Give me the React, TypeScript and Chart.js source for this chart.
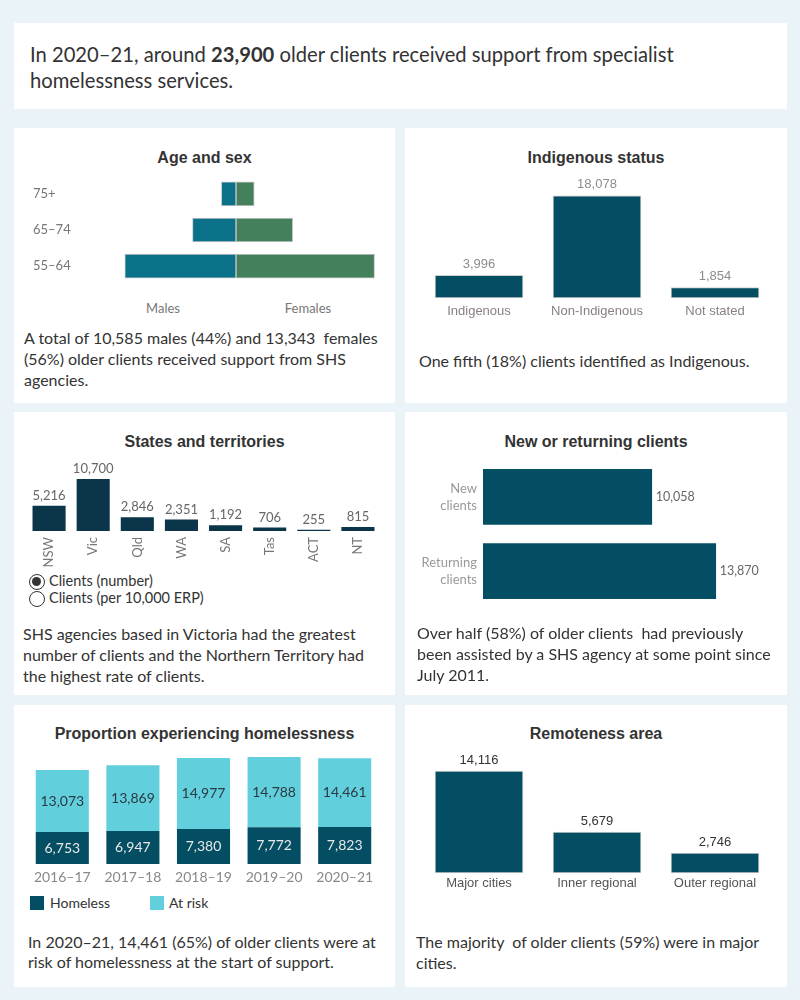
import React, { useEffect, useRef } from "react";
import { Chart, registerables } from "chart.js";
Chart.register(...registerables);

// ---------- data ----------
const ageGroups = ["75+", "65–74", "55–64"];
const maleCounts = [915, 2720, 6950];
const femaleCounts = [1138, 3545, 8660];

const indigenousCats = ["Indigenous", "Non-Indigenous", "Not stated"];
const indigenousCounts = [3996, 18078, 1854];

const stateCats = ["NSW", "Vic", "Qld", "WA", "SA", "Tas", "ACT", "NT"];
const stateCounts = [5216, 10700, 2846, 2351, 1192, 706, 255, 815];

const clientTypeCats = [["New", "clients"], ["Returning", "clients"]];
const clientTypeCounts = [10058, 13870];

const years = ["2016–17", "2017–18", "2018–19", "2019–20", "2020–21"];
const homelessCounts = [6753, 6947, 7380, 7772, 7823];
const atRiskCounts = [13073, 13869, 14977, 14788, 14461];

const remotenessCats = ["Major cities", "Inner regional", "Outer regional"];
const remotenessCounts = [14116, 5679, 2746];

// ---------- styles ----------
const BG = "#eaf3f7";
const TEAL = "#044e64";
const NAVY = "#0b3548";
const CYAN = "#62cfdd";
const MALE = "#0b7189";
const FEMALE = "#43805b";
const BODY_FONT = "Lato, 'Open Sans', sans-serif";
const ARIAL = "'Liberation Sans', Arial, sans-serif";

Chart.defaults.font.family = BODY_FONT;

const fmt = (v: number) => Math.abs(v).toLocaleString("en-US");

type LabelOpts = {
  mode: "top" | "right" | "center";
  colors: string[];
  font: string;
  offset?: number;
};

function valueLabels(o: LabelOpts) {
  return {
    id: "valueLabels",
    afterDatasetsDraw(chart: any) {
      const ctx = chart.ctx;
      ctx.save();
      ctx.font = o.font;
      chart.data.datasets.forEach((ds: any, di: number) => {
        const meta = chart.getDatasetMeta(di);
        ctx.fillStyle = o.colors[di % o.colors.length];
        meta.data.forEach((el: any, i: number) => {
          const v = ds.data[i] as number;
          const p = el.getProps(["x", "y", "base"], true);
          const txt = fmt(v);
          if (o.mode === "top") {
            ctx.textAlign = "center";
            ctx.textBaseline = "middle";
            ctx.fillText(txt, p.x, p.y - (o.offset ?? 10));
          } else if (o.mode === "right") {
            ctx.textAlign = "left";
            ctx.textBaseline = "middle";
            ctx.fillText(txt, p.x + (o.offset ?? 4), p.y);
          } else {
            ctx.textAlign = "center";
            ctx.textBaseline = "middle";
            ctx.fillText(txt, p.x, (p.y + p.base) / 2);
          }
        });
      });
      ctx.restore();
    },
  };
}

const noGrid = { display: false, drawTicks: false };
const noBorder = { display: false };
const basePlugins = { legend: { display: false }, tooltip: { enabled: false }, title: { display: false } };

function ChartBox(props: { left: number; top: number; width: number; height: number; make: () => any }) {
  const ref = useRef<HTMLCanvasElement>(null);
  useEffect(() => {
    const chart = new Chart(ref.current as HTMLCanvasElement, props.make());
    return () => chart.destroy();
  }, []);
  return (
    <div style={{ position: "absolute", left: props.left, top: props.top, width: props.width, height: props.height }}>
      <canvas ref={ref} />
    </div>
  );
}

// ---------- chart configs ----------
const ageConfig = () => ({
  type: "bar",
  data: {
    labels: ageGroups,
    datasets: [
      { label: "Males", data: maleCounts.map((v) => -v), backgroundColor: MALE },
      { label: "Females", data: femaleCounts, backgroundColor: FEMALE },
    ].map((d) => ({ ...d, barThickness: 24, borderColor: "#c9c9c9", borderWidth: 1, borderSkipped: false })),
  },
  options: {
    indexAxis: "y",
    animation: false,
    responsive: true,
    maintainAspectRatio: false,
    layout: { padding: 0 },
    scales: {
      x: { display: false, stacked: true, min: -8250, max: 9250 },
      y: {
        stacked: true,
        grid: noGrid,
        border: noBorder,
        afterFit: (s: any) => { s.width = 71; },
        ticks: { padding: 3, crossAlign: "far", color: "#777", font: { size: 13 } },
      },
    },
    plugins: basePlugins,
  },
});

const indigenousConfig = () => ({
  type: "bar",
  data: {
    labels: indigenousCats,
    datasets: [{ data: indigenousCounts, backgroundColor: TEAL, barThickness: 88, borderColor: "#cfcfcf", borderWidth: 1, borderSkipped: false }],
  },
  options: {
    animation: false,
    responsive: true,
    maintainAspectRatio: false,
    layout: { padding: { top: 15, bottom: 0, left: 0, right: 0 } },
    scales: {
      x: {
        grid: noGrid,
        border: noBorder,
        afterFit: (s: any) => { s.height = 22; },
        ticks: { padding: 6, color: "#8a8080", font: { family: ARIAL, size: 13 } },
      },
      y: { display: false, min: 0, max: 20000 },
    },
    plugins: basePlugins,
  },
  plugins: [valueLabels({ mode: "top", colors: ["#8c8c8c"], font: `13px ${ARIAL}`, offset: 11 })],
});

const statesConfig = () => ({
  type: "bar",
  data: {
    labels: stateCats,
    datasets: [{ data: stateCounts, backgroundColor: NAVY, barPercentage: 0.75, categoryPercentage: 1 }],
  },
  options: {
    animation: false,
    responsive: true,
    maintainAspectRatio: false,
    layout: { padding: { top: 17, bottom: 0, left: 0, right: 0 } },
    scales: {
      x: {
        grid: noGrid,
        border: noBorder,
        afterFit: (s: any) => { s.height = 40; },
        ticks: { padding: 6, minRotation: 90, maxRotation: 90, autoSkip: false, color: "#777", font: { size: 13 } },
      },
      y: { display: false, min: 0, max: 12150 },
    },
    plugins: basePlugins,
  },
  plugins: [valueLabels({ mode: "top", colors: ["#666"], font: `13px ${BODY_FONT}`, offset: 10 })],
});

const clientTypeConfig = () => ({
  type: "bar",
  data: {
    labels: clientTypeCats,
    datasets: [{ data: clientTypeCounts, backgroundColor: TEAL, barThickness: 55 }],
  },
  options: {
    indexAxis: "y",
    animation: false,
    responsive: true,
    maintainAspectRatio: false,
    layout: { padding: 0 },
    scales: {
      x: { display: false, min: 0, max: 17700 },
      y: {
        grid: noGrid,
        border: noBorder,
        afterFit: (s: any) => { s.width = 73; },
        ticks: { padding: 6, color: "#999", font: { size: 13, lineHeight: 1.3 } },
      },
    },
    plugins: basePlugins,
  },
  plugins: [valueLabels({ mode: "right", colors: ["#666"], font: `12.5px ${BODY_FONT}`, offset: 4 })],
});

const homelessConfig = () => ({
  type: "bar",
  data: {
    labels: years,
    datasets: [
      { label: "Homeless", data: homelessCounts, backgroundColor: TEAL },
      { label: "At risk", data: atRiskCounts, backgroundColor: CYAN },
    ].map((d) => ({ ...d, barPercentage: 0.752, categoryPercentage: 1 })),
  },
  options: {
    animation: false,
    responsive: true,
    maintainAspectRatio: false,
    layout: { padding: { top: 5, bottom: 0, left: 0, right: 0 } },
    scales: {
      x: {
        stacked: true,
        grid: noGrid,
        border: noBorder,
        afterFit: (s: any) => { s.height = 25; },
        ticks: { padding: 5, color: "#888", font: { size: 14 } },
      },
      y: { display: false, stacked: true, min: 0, max: 24050 },
    },
    plugins: basePlugins,
  },
  plugins: [valueLabels({ mode: "center", colors: ["#e8e8e8", "#2a3a44"], font: `14px ${BODY_FONT}` })],
});

const remotenessConfig = () => ({
  type: "bar",
  data: {
    labels: remotenessCats,
    datasets: [{ data: remotenessCounts, backgroundColor: TEAL, barThickness: 88, borderColor: "#cfcfcf", borderWidth: 1, borderSkipped: false }],
  },
  options: {
    animation: false,
    responsive: true,
    maintainAspectRatio: false,
    layout: { padding: { top: 12, bottom: 0, left: 0, right: 0 } },
    scales: {
      x: {
        grid: noGrid,
        border: noBorder,
        afterFit: (s: any) => { s.height = 22; },
        ticks: { padding: 3, color: "#555", font: { family: ARIAL, size: 13 } },
      },
      y: { display: false, min: 0, max: 15360 },
    },
    plugins: basePlugins,
  },
  plugins: [valueLabels({ mode: "top", colors: ["#333"], font: `13px ${ARIAL}`, offset: 11 })],
});

// ---------- layout helpers ----------
const Card = (p: { l: number; t: number; w: number; h: number }) => (
  <div style={{ position: "absolute", left: p.l, top: p.t, width: p.w, height: p.h, background: "#fff" }} />
);

const Title = (p: { cx: number; cy: number; text: string }) => (
  <div
    style={{
      position: "absolute", left: p.cx - 190, width: 380, top: p.cy - 10, height: 20, lineHeight: "20px",
      textAlign: "center", fontFamily: ARIAL, fontWeight: "bold", fontSize: 16, color: "#333", whiteSpace: "nowrap",
    }}
  >
    {p.text}
  </div>
);

const Para = (p: { l: number; cy: number; lh: number; lines: React.ReactNode[] }) => (
  <div
    style={{
      position: "absolute", left: p.l, top: p.cy - p.lh / 2, lineHeight: p.lh + "px", fontFamily: BODY_FONT,
      fontSize: 16, color: "#333", whiteSpace: "nowrap",
    }}
  >
    {p.lines.map((ln, i) => (<div key={i}>{ln}</div>))}
  </div>
);

const Small = (p: { l: number; cy: number; text: string; color: string; size: number; center?: boolean }) => (
  <div
    style={{
      position: "absolute", left: p.center ? p.l - 60 : p.l, width: p.center ? 120 : undefined,
      textAlign: p.center ? "center" : "left", top: p.cy - 10, height: 20, lineHeight: "20px",
      fontFamily: BODY_FONT, fontSize: p.size, color: p.color, whiteSpace: "nowrap",
    }}
  >
    {p.text}
  </div>
);

const Radio = (p: { cx: number; cy: number; on: boolean }) => (
  <div
    style={{
      position: "absolute", left: p.cx - 8, top: p.cy - 8, width: 14, height: 14, borderRadius: "50%",
      border: "1.5px solid #333", background: "#fff", boxSizing: "content-box",
    }}
  >
    {p.on && (
      <div style={{ position: "absolute", left: 2.5, top: 2.5, width: 9, height: 9, borderRadius: "50%", background: "#333" }} />
    )}
  </div>
);

const Swatch = (p: { l: number; t: number; color: string }) => (
  <div style={{ position: "absolute", left: p.l, top: p.t, width: 14, height: 14, background: p.color }} />
);

export default function App() {
  return (
    <div style={{ position: "absolute", left: 0, top: 0, width: 800, height: 1000, background: BG, overflow: "hidden" }}>
      <Card l={14} t={23} w={773} h={86} />
      <Card l={14} t={128} w={381} h={275} />
      <Card l={405} t={128} w={382} h={275} />
      <Card l={14} t={412} w={381} h={283} />
      <Card l={405} t={412} w={382} h={283} />
      <Card l={14} t={705} w={381} h={282} />
      <Card l={405} t={705} w={382} h={282} />

      <div
        style={{
          position: "absolute", left: 30, top: 41, lineHeight: "26px", fontFamily: BODY_FONT, fontSize: 20.2,
          color: "#333", whiteSpace: "nowrap",
        }}
      >
        <div>
          In 2020–21, around <b>23,900</b> older clients received support from specialist
        </div>
        <div>homelessness services.</div>
      </div>

      {/* Age and sex */}
      <Title cx={204.5} cy={158} text="Age and sex" />
      <ChartBox left={33} top={165} width={351} height={130} make={ageConfig} />
      <Small l={163} cy={308} text="Males" color="#777" size={13} center />
      <Small l={308} cy={308} text="Females" color="#777" size={13} center />
      <Para
        l={24}
        cy={337}
        lh={21}
        lines={["A total of 10,585 males (44%) and 13,343\u00a0 females", "(56%) older clients received support from SHS", "agencies."]}
      />

      {/* Indigenous status */}
      <Title cx={596} cy={158} text="Indigenous status" />
      <ChartBox left={420} top={170} width={354} height={150} make={indigenousConfig} />
      <Para l={419} cy={360} lh={21} lines={["One fifth (18%) clients identified as Indigenous."]} />

      {/* States and territories */}
      <Title cx={204.5} cy={442} text="States and territories" />
      <ChartBox left={27} top={455} width={353} height={116} make={statesConfig} />
      <Radio cx={36.5} cy={581.5} on={true} />
      <Radio cx={36.5} cy={598.5} on={false} />
      <Small l={49} cy={581} text="Clients (number)" color="#333" size={14.5} />
      <Small l={49} cy={598} text="Clients (per 10,000 ERP)" color="#333" size={14.5} />
      <Para
        l={23}
        cy={633}
        lh={21}
        lines={["SHS agencies based in Victoria had the greatest", "number of clients and the Northern Territory had", "the highest rate of clients."]}
      />

      {/* New or returning */}
      <Title cx={596} cy={442} text="New or returning clients" />
      <ChartBox left={410} top={436.5} width={370} height={194} make={clientTypeConfig} />
      <Para
        l={417}
        cy={632}
        lh={21}
        lines={["Over half (58%) of older clients\u00a0 had previously", "been assisted by a SHS agency at some point since", "July 2011."]}
      />

      {/* Proportion experiencing homelessness */}
      <Title cx={204.5} cy={734} text="Proportion experiencing homelessness" />
      <ChartBox left={27} top={745} width={353} height={144} make={homelessConfig} />
      <Swatch l={30} t={896} color={TEAL} />
      <Small l={50} cy={903} text="Homeless" color="#333" size={14} />
      <Swatch l={150} t={896} color={CYAN} />
      <Small l={169} cy={903} text="At risk" color="#333" size={14} />
      <Para
        l={28}
        cy={942}
        lh={20.5}
        lines={["In 2020–21, 14,461 (65%) of older clients were at", "risk of homelessness at the start of support."]}
      />

      {/* Remoteness */}
      <Title cx={596} cy={734} text="Remoteness area" />
      <ChartBox left={420} top={750} width={354} height={145} make={remotenessConfig} />
      <Para l={416} cy={941} lh={21} lines={["The majority\u00a0 of older clients (59%) were in major", "cities."]} />
    </div>
  );
}
